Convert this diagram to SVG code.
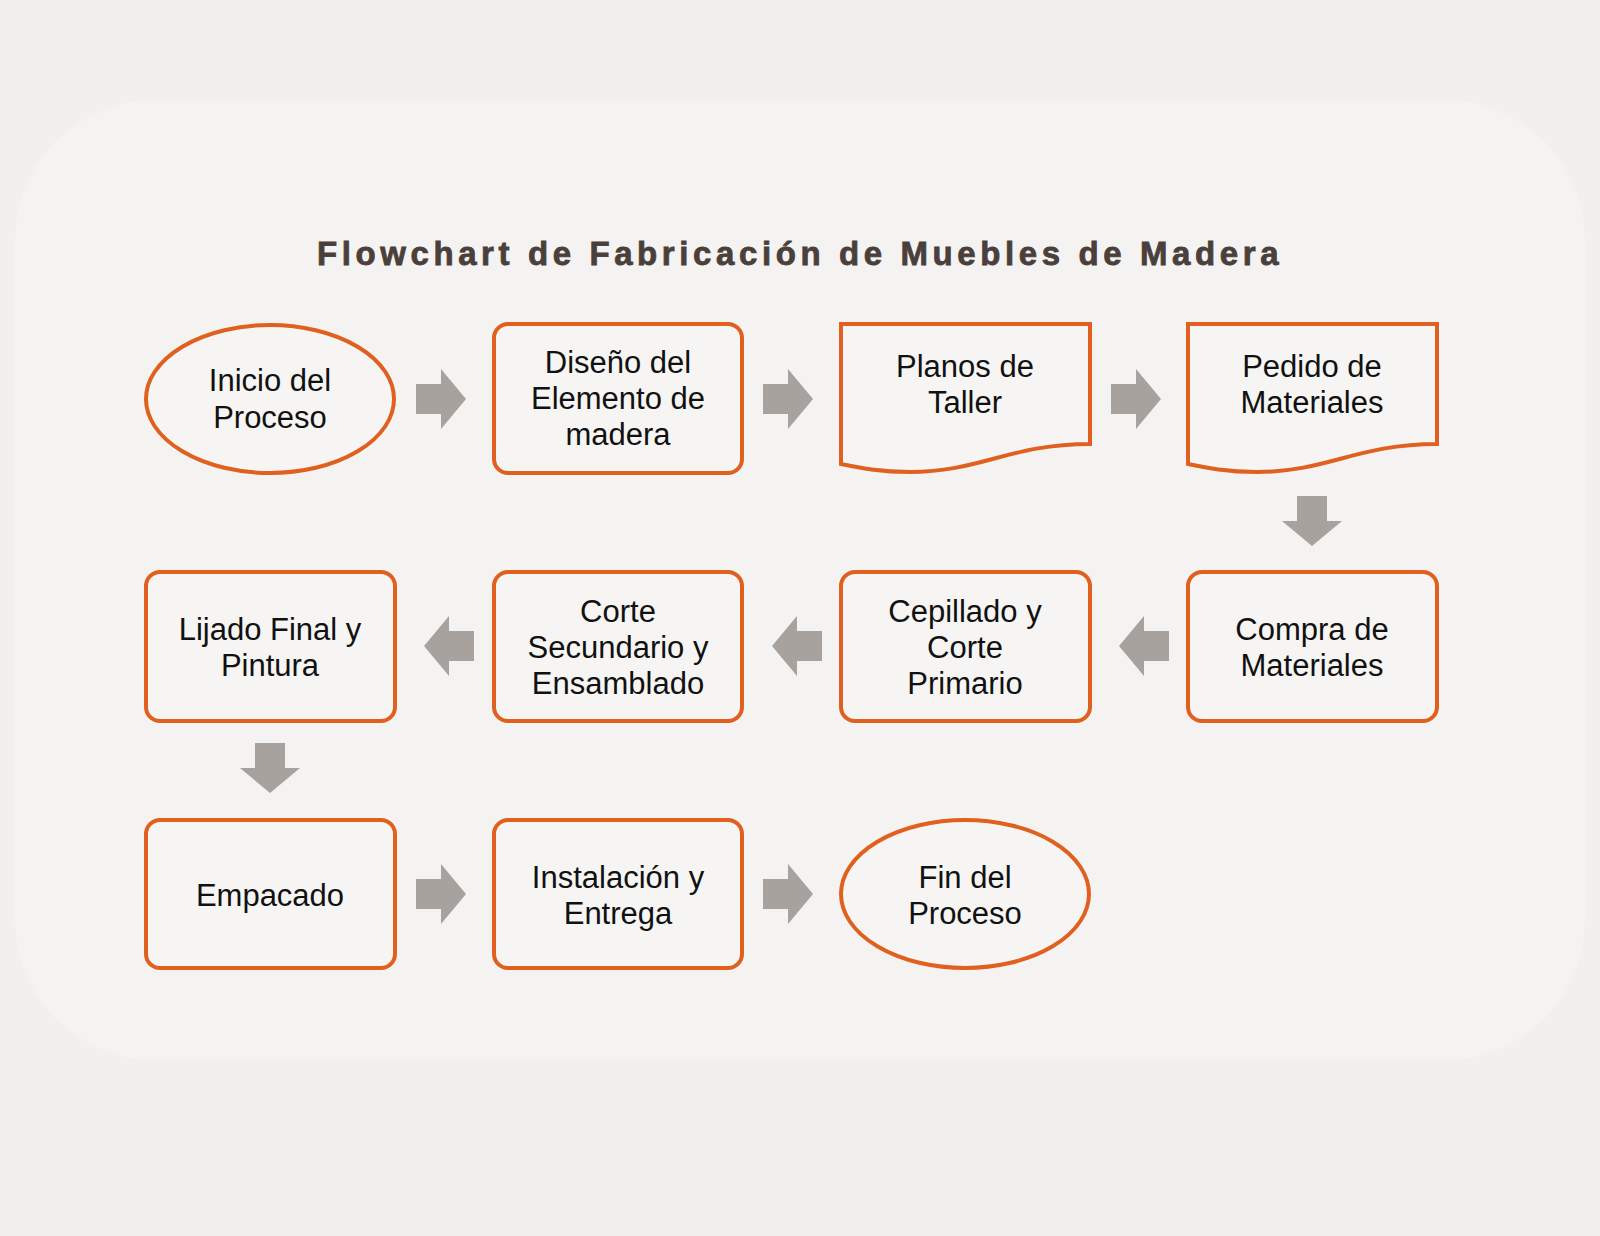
<svg xmlns="http://www.w3.org/2000/svg" width="1600" height="1236" viewBox="0 0 1600 1236">
<style>
.n{fill:#f6f5f4;stroke:#e0601f;stroke-width:4}
.t{font-family:"Liberation Sans",Arial,sans-serif;font-size:31px;fill:#111;text-anchor:middle}
.a{fill:#a8a29f}
</style>
<defs>
<path id="ar" d="M-25,-15 H0 V-30 L25,0 L0,30 V15 H-25 Z"/>
</defs>
<rect width="1600" height="1236" fill="#f1f0ef"/>
<rect x="15" y="100" width="1570" height="960" rx="140" fill="#f4f3f2"/>
<text x="800" y="265" font-family="Liberation Sans,Arial,sans-serif" font-weight="bold" font-size="33" letter-spacing="4.6" stroke="#4a3f3a" stroke-width="0.8" fill="#4a3f3a" text-anchor="middle">Flowchart de Fabricación de Muebles de Madera</text>
<g id="connectors">
<use href="#ar" class="a" transform="translate(441,399)"/>
<use href="#ar" class="a" transform="translate(788,399)"/>
<use href="#ar" class="a" transform="translate(1136,399)"/>
<use href="#ar" class="a" transform="translate(1312,521) rotate(90)"/>
<use href="#ar" class="a" transform="translate(1144,646) rotate(180)"/>
<use href="#ar" class="a" transform="translate(797,646) rotate(180)"/>
<use href="#ar" class="a" transform="translate(449,646) rotate(180)"/>
<use href="#ar" class="a" transform="translate(270,768) rotate(90)"/>
<use href="#ar" class="a" transform="translate(441,894)"/>
<use href="#ar" class="a" transform="translate(788,894)"/>
</g>
<g id="n1"><ellipse class="n" cx="270" cy="399" rx="124" ry="74"/><text class="t" x="270" y="391">Inicio del</text><text class="t" x="270" y="428">Proceso</text></g>
<g id="n2"><rect class="n" x="494" y="324" width="248" height="149" rx="14"/><text class="t" x="618" y="373">Diseño del</text><text class="t" x="618" y="409">Elemento de</text><text class="t" x="618" y="445">madera</text></g>
<g id="n3"><path class="n" d="M841,324 H1090 V444 C1010,444 980,472 910,472 C880,472 860,468 841,464 Z"/><text class="t" x="965" y="377">Planos de</text><text class="t" x="965" y="413">Taller</text></g>
<g id="n4"><path class="n" d="M1188,324 H1437 V444 C1357,444 1327,472 1257,472 C1227,472 1207,468 1188,464 Z"/><text class="t" x="1312" y="377">Pedido de</text><text class="t" x="1312" y="413">Materiales</text></g>
<g id="n5"><rect class="n" x="1188" y="572" width="249" height="149" rx="14"/><text class="t" x="1312" y="640">Compra de</text><text class="t" x="1312" y="676">Materiales</text></g>
<g id="n6"><rect class="n" x="841" y="572" width="249" height="149" rx="14"/><text class="t" x="965" y="622">Cepillado y</text><text class="t" x="965" y="658">Corte</text><text class="t" x="965" y="694">Primario</text></g>
<g id="n7"><rect class="n" x="494" y="572" width="248" height="149" rx="14"/><text class="t" x="618" y="622">Corte</text><text class="t" x="618" y="658">Secundario y</text><text class="t" x="618" y="694">Ensamblado</text></g>
<g id="n8"><rect class="n" x="146" y="572" width="249" height="149" rx="14"/><text class="t" x="270" y="640">Lijado Final y</text><text class="t" x="270" y="676">Pintura</text></g>
<g id="n9"><rect class="n" x="146" y="820" width="249" height="148" rx="14"/><text class="t" x="270" y="906">Empacado</text></g>
<g id="n10"><rect class="n" x="494" y="820" width="248" height="148" rx="14"/><text class="t" x="618" y="888">Instalación y</text><text class="t" x="618" y="924">Entrega</text></g>
<g id="n11"><ellipse class="n" cx="965" cy="894" rx="124" ry="74"/><text class="t" x="965" y="888">Fin del</text><text class="t" x="965" y="924">Proceso</text></g>
</svg>
